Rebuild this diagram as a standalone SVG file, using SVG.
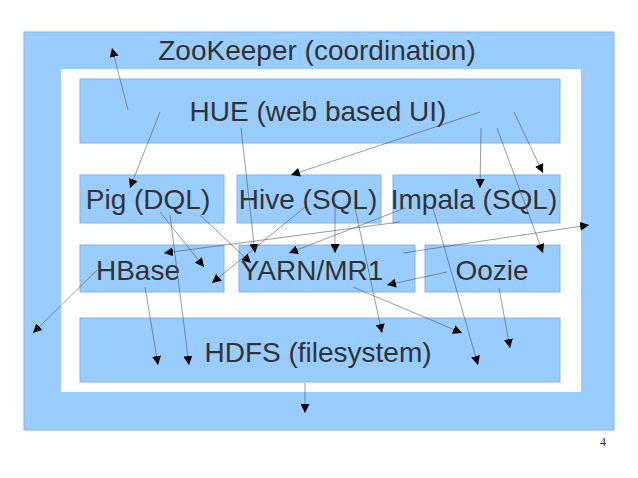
<svg xmlns="http://www.w3.org/2000/svg" width="638" height="478" viewBox="0 0 638 478">
<defs><marker id="a" viewBox="0 0 10 10" refX="10" refY="5" markerWidth="9" markerHeight="9" markerUnits="userSpaceOnUse" orient="auto"><path d="M0,0L10,5L0,10z" fill="#000"/></marker></defs>
<style>.b{fill:#99ccff;stroke:#88b4e0;stroke-width:1}.t{font-family:"Liberation Sans",Arial,sans-serif;font-size:28px;fill:#333;text-anchor:middle}.c line{stroke:#555;stroke-width:0.6;marker-end:url(#a)}</style>
<rect width="638" height="478" fill="#fff"/>
<g id="zookeeper"><rect class="b" x="24" y="32" width="590" height="398"/><rect x="61" y="69" width="520" height="323" fill="#fff"/><text class="t" x="317" y="60">ZooKeeper (coordination)</text></g>
<g id="hue"><rect class="b" x="80" y="79" width="480" height="64"/><text class="t" x="318" y="121">HUE (web based UI)</text></g>
<g id="pig"><rect class="b" x="80" y="175" width="144" height="48"/><text class="t" x="148" y="209">Pig (DQL)</text></g>
<g id="hive"><rect class="b" x="237" y="175" width="144" height="48"/><text class="t" x="308" y="209">Hive (SQL)</text></g>
<g id="impala"><rect class="b" x="393" y="175" width="167" height="48"/><text class="t" x="474" y="209">Impala (SQL)</text></g>
<g id="hbase"><rect class="b" x="80" y="245" width="144" height="47"/><text class="t" x="138" y="280">HBase</text></g>
<g id="yarn"><rect class="b" x="239" y="245" width="176" height="47"/><text class="t" x="312" y="280">YARN/MR1</text></g>
<g id="oozie"><rect class="b" x="425" y="245" width="135" height="47"/><text class="t" x="492" y="280">Oozie</text></g>
<g id="hdfs"><rect class="b" x="80" y="318" width="480" height="64"/><text class="t" x="318" y="362">HDFS (filesystem)</text></g>
<text x="600" y="446" style="font-family:'Liberation Serif',serif;font-size:12px;fill:#333">4</text>
<g class="c">
<line x1="128" y1="110" x2="112" y2="48"/>
<line x1="160" y1="112" x2="130" y2="188"/>
<line x1="480" y1="112" x2="291" y2="175"/>
<line x1="481" y1="128" x2="480" y2="188"/>
<line x1="514" y1="112" x2="543" y2="173"/>
<line x1="241" y1="128" x2="255" y2="253"/>
<line x1="497" y1="128" x2="543" y2="253"/>
<line x1="305" y1="207" x2="212" y2="283"/>
<line x1="405" y1="208" x2="289" y2="253"/>
<line x1="400" y1="222" x2="164" y2="253"/>
<line x1="160" y1="212" x2="204" y2="267"/>
<line x1="200" y1="215" x2="251" y2="263"/>
<line x1="335" y1="208" x2="335" y2="253"/>
<line x1="355" y1="208" x2="382" y2="333"/>
<line x1="403" y1="253" x2="589" y2="225"/>
<line x1="447" y1="272" x2="387" y2="285"/>
<line x1="353" y1="287" x2="462" y2="333"/>
<line x1="433" y1="208" x2="478" y2="365"/>
<line x1="499" y1="288" x2="510" y2="348"/>
<line x1="145" y1="287" x2="158" y2="365"/>
<line x1="170" y1="215" x2="189" y2="365"/>
<line x1="97" y1="270" x2="33" y2="333"/>
<line x1="305" y1="383" x2="305" y2="413"/>
</g>
</svg>
